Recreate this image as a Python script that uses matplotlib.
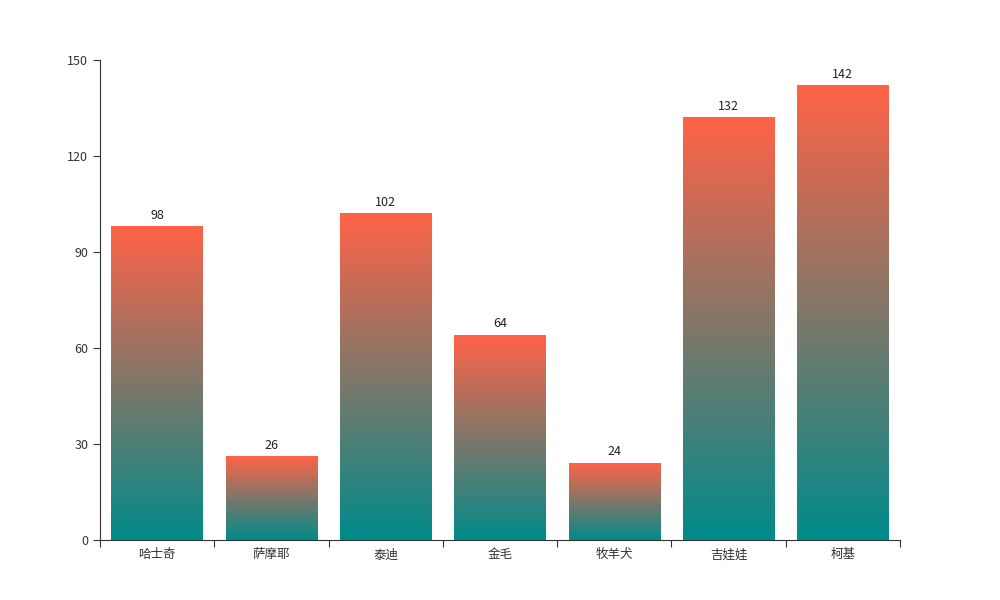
import matplotlib.pyplot as plt
import numpy as np
from matplotlib.colors import LinearSegmentedColormap

plt.rcParams['font.family'] = ['Noto Sans CJK SC', 'DejaVu Sans']

categories = ['哈士奇', '萨摩耶', '泰迪', '金毛', '牧羊犬', '吉娃娃', '柯基']
values = [98, 26, 102, 64, 24, 132, 142]

cmap = LinearSegmentedColormap.from_list('grad', ['#008b8b', '#ff6347'])
grad = np.linspace(0, 1, 256).reshape(-1, 1)

fig = plt.figure(figsize=(10, 6), dpi=100)
ax = fig.add_axes([0.1, 0.1, 0.8, 0.8])

w = 0.8
for i, v in enumerate(values):
    ax.imshow(grad, cmap=cmap, origin='lower', aspect='auto',
              extent=[i - w / 2, i + w / 2, 0, v], zorder=2)
    ax.text(i, v + 1.5, str(v), ha='center', va='bottom', fontsize=9, color='#222222')

ax.set_xlim(-0.5, len(values) - 0.5)
ax.set_ylim(0, 150)
ax.set_yticks([0, 30, 60, 90, 120, 150])
ax.set_xticks(np.arange(-0.5, len(values)), [''] * (len(values) + 1))
ax.set_xticks(range(len(values)), categories, minor=True)
ax.tick_params(axis='x', which='minor', length=0, pad=6)
ax.tick_params(axis='both', which='major', labelsize=9, colors='#333333', length=5)
ax.tick_params(axis='x', which='minor', labelsize=9, colors='#333333')
for s in ['top', 'right']:
    ax.spines[s].set_visible(False)
for s in ['left', 'bottom']:
    ax.spines[s].set_color('#333333')

fig.savefig('out.png', dpi=100)
